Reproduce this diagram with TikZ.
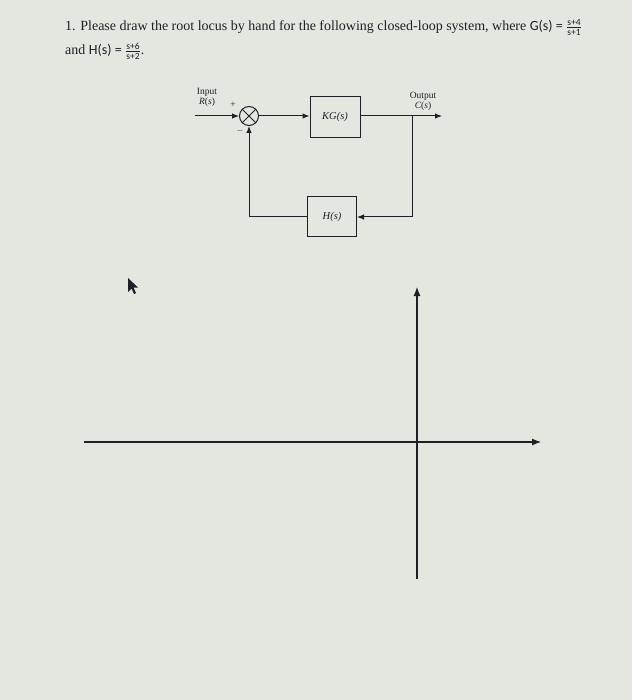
\documentclass[tikz,border=0pt]{standalone}
\usepackage{amsmath}
\usepackage{fontspec}
\setmainfont{Liberation Serif}
\newfontfamily\gsfont{Carlito}
\usetikzlibrary{arrows.meta, positioning}
\definecolor{paper}{RGB}{228,230,224}
\definecolor{ink}{RGB}{30,32,38}
\newcommand{\tffrac}[2]{$\frac{\text{\gsfont\fontsize{9.5}{10}\selectfont #1}}{\text{\gsfont\fontsize{9.5}{10}\selectfont #2}}$}

\begin{document}
\begin{tikzpicture}[x=1pt, y=-1pt, >={Latex[length=7pt,width=5.5pt]}, draw=ink, text=ink,
  blk/.style={draw, line width=1pt, inner sep=0pt},
  wire/.style={line width=1pt},
  axis/.style={line width=1.1pt, -{Latex[length=9pt,width=7pt]}},
  small/.style={font=\fontsize{9.5}{10}\selectfont, align=center, inner sep=0pt}]
\fill[paper] (0,0) rectangle (632,700);
\useasboundingbox (0,0) rectangle (632,700);

% question
\node[anchor=base west, inner sep=0pt, font=\fontsize{14}{16}\selectfont] (q1) at (65,31)
  {1. Please draw the root locus by hand for the following closed-loop system, where {\gsfont G(s) =} \tffrac{s+4}{s+1}};
\node[anchor=base west, inner sep=0pt, font=\fontsize{14}{16}\selectfont] (q2) at (65,55)
  {and {\gsfont H(s) =} \tffrac{s+6}{s+2}.};

% block diagram
\node[blk, circle, minimum size=19pt] (sum) at (249,116) {};
\draw[wire] (sum.north west) -- (sum.south east) (sum.north east) -- (sum.south west);
\node[blk, minimum width=50pt, minimum height=41pt, font=\fontsize{10.5}{11}\selectfont] (kg) at (335,117) {\textit{KG(s)}};
\node[blk, minimum width=49pt, minimum height=40pt, font=\fontsize{10.5}{11}\selectfont] (h) at (332,217) {\textit{H(s)}};
\coordinate (in) at (195,116);
\coordinate (out) at (442,116);
\coordinate (br) at (412,116);
\draw[wire, ->] (in) -- (sum);
\draw[wire, ->] (sum) -- (kg.west |- sum);
\draw[wire, ->] (kg.east |- out) -- (out);
\draw[wire, ->] (br) |- (h);
\draw[wire, ->] (h) -| (sum);
\node[small] (rin) at (207,97) {Input\\\textit{R}(\textit{s})};
\node[small] (cout) at (423,101) {Output\\\textit{C}(\textit{s})};
\node[small] (plus) at (233,105) {+};
\node[small] (minus) at (240,131) {$-$};

% axes
\coordinate (xl) at (84,442);
\coordinate (xr) at (541,442);
\coordinate (yt) at (417,287);
\coordinate (yb) at (417,579);
\draw[axis] (xl) -- (xr);
\draw[axis] (yb) -- (yt);

% mouse pointer
\fill[ink] (128,278) -- (128,292) -- (131.5,288.5) -- (134,294) -- (136,293) -- (133.5,287.5) -- (138,287.5) -- cycle;
\end{tikzpicture}
\end{document}
